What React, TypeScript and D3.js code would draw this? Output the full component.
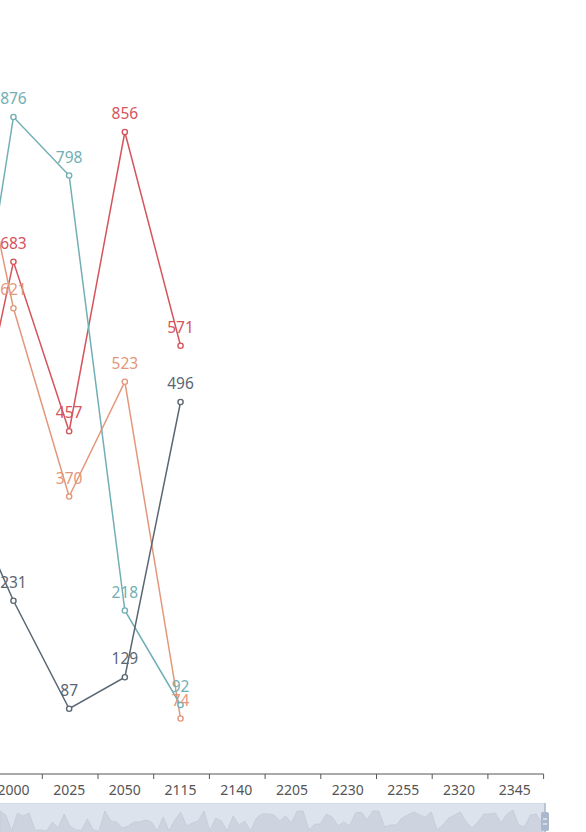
import React, { useRef, useEffect } from "react";
import * as d3 from "d3";

// categories on the x axis (the first one is scrolled out of view on the left)
const categories = ["1935", "2000", "2025", "2050", "2115", "2140", "2205", "2230", "2255", "2320", "2345"];

const redValues = [336, 683, 457, 856, 571];
const orangeValues = [975, 621, 370, 523, 74];
const tealValues = [405, 876, 798, 218, 92];
const darkValues = [400, 231, 87, 129, 496];

// data shadow shown in the slider under the chart
const shadowValues = [
  800, 700, 300, 750, 675, 750, 325, 325, 300, 525, 375, 725, 425, 325, 325, 600, 325, 300, 800, 550,
  525, 375, 425, 525, 525, 575, 525, 300, 650, 300, 575, 775, 425,
  500, 550, 800, 300, 625, 550, 300, 675, 450, 550, 300, 625, 725, 725, 700, 550, 675, 500, 800, 800,
  325, 475, 475, 725, 650, 425, 525, 425, 750, 775, 575, 800, 800, 400, 450, 450,
  625, 700, 775, 700, 650, 775, 325, 450, 625, 700, 775, 525, 375, 525, 725, 725, 750, 500, 725, 825,
  450, 400, 700, 725, 500,
];

const seriesList = [
  { name: "red", color: "#d6545c", values: redValues, labelDy: -13 },
  { name: "orange", color: "#e3977a", values: orangeValues, labelDy: -13 },
  { name: "teal", color: "#72afb5", values: tealValues, labelDy: -13 },
  { name: "dark", color: "#5a6773", values: darkValues, labelDy: -13 },
];

const W = 586;
const H = 832;

const App = () => {
  const canvas = useRef<SVGSVGElement>(null);

  useEffect(() => {
    const svg = d3.select(canvas.current);
    svg.selectAll("*").remove();

    const font = "'Noto Sans', 'DejaVu Sans', sans-serif";
    const axisRight = 543.6;
    const band = 55.7;

    const xScale = d3.scaleBand<string>()
      .domain(categories)
      .range([axisRight - band * categories.length, axisRight]);
    const yScale = d3.scaleLinear().domain([0, 1000]).range([774, 24]);
    // points and labels sit a hair left of the band centre
    const cx = (i: number) => (xScale(categories[i]) as number) + xScale.bandwidth() / 2 - 1;

    // x axis
    const axis = svg.append("g").attr("transform", "translate(0,774)");
    axis.append("line")
      .attr("x1", 0).attr("x2", axisRight)
      .attr("stroke", "#555").attr("stroke-width", 1);
    categories.forEach((c, i) => {
      const x0 = (xScale(c) as number) + xScale.bandwidth();
      axis.append("line")
        .attr("x1", x0).attr("x2", x0).attr("y1", 0).attr("y2", 5)
        .attr("stroke", "#555");
      axis.append("text")
        .attr("x", cx(i)).attr("y", 21)
        .attr("text-anchor", "middle")
        .attr("font-family", font).attr("font-size", 14)
        .attr("fill", "#555")
        .text(c);
    });

    // lines
    const line = d3.line<number>()
      .x((d, i) => cx(i))
      .y(d => yScale(d));

    seriesList.forEach(s => {
      svg.append("path")
        .datum(s.values)
        .attr("d", line)
        .attr("fill", "none")
        .attr("stroke", s.color)
        .attr("stroke-width", 1.5);
    });
    seriesList.forEach(s => {
      s.values.forEach((v, i) => {
        svg.append("circle")
          .attr("cx", cx(i)).attr("cy", yScale(v)).attr("r", 2.6)
          .attr("fill", "#fff").attr("stroke", s.color).attr("stroke-width", 1.4);
      });
    });
    seriesList.forEach(s => {
      s.values.forEach((v, i) => {
        if (i === 0) return;
        svg.append("text")
          .attr("x", cx(i)).attr("y", yScale(v) + s.labelDy)
          .attr("text-anchor", "middle")
          .attr("font-family", font).attr("font-size", 15.5)
          .attr("fill", s.color)
          .text(v);
      });
    });

    // slider (dataZoom)
    const sTop = 803, sBottom = 843, sRight = 545;
    const slider = svg.append("g");
    slider.append("rect")
      .attr("x", 0).attr("y", sTop).attr("width", sRight).attr("height", sBottom - sTop)
      .attr("fill", "#dde3ec");
    const sx = d3.scaleLinear().domain([0, shadowValues.length - 1]).range([0, sRight - 3]);
    const sy = d3.scaleLinear().domain([0, 1000]).range([sBottom, sTop]);
    const area = d3.area<number>()
      .x((d, i) => sx(i))
      .y0(sBottom)
      .y1(d => sy(d));
    slider.append("path")
      .datum(shadowValues)
      .attr("d", area)
      .attr("fill", "#cdd4df")
      .attr("stroke", "#c3cad7")
      .attr("stroke-width", 0.8);
    slider.append("line")
      .attr("x1", 0).attr("x2", sRight).attr("y1", sTop + 0.5).attr("y2", sTop + 0.5)
      .attr("stroke", "#d2dbe9");
    // handle
    slider.append("line")
      .attr("x1", sRight).attr("x2", sRight).attr("y1", sTop).attr("y2", 832)
      .attr("stroke", "#a9b8cd").attr("stroke-width", 1.5);
    slider.append("rect")
      .attr("x", sRight - 4).attr("y", 812).attr("width", 8).attr("height", 19).attr("rx", 2)
      .attr("fill", "#a9b8cd");
    [819, 824].forEach(y => {
      slider.append("line")
        .attr("x1", sRight - 2).attr("x2", sRight + 2).attr("y1", y).attr("y2", y)
        .attr("stroke", "#fff").attr("stroke-width", 1);
    });
  });

  return (
    <svg ref={canvas} width={W} height={H}
      style={{ position: "absolute", left: 0, top: 0, background: "#fff" }} />
  );
};

export default App;
